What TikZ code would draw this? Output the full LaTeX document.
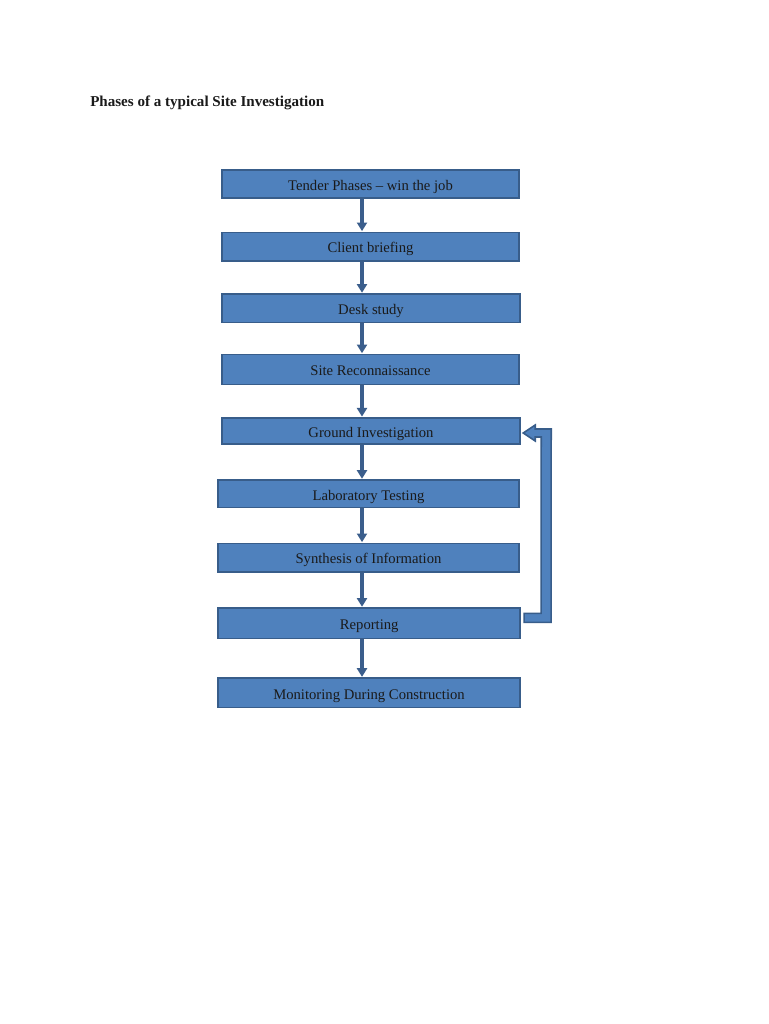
\documentclass[tikz,border=0pt]{standalone}
\usepackage{fontspec}
\setmainfont{Liberation Serif}
\usetikzlibrary{arrows.meta,calc}
\definecolor{boxfill}{HTML}{4F81BD}
\definecolor{boxline}{HTML}{385D8A}
\definecolor{arrowcol}{HTML}{3B5E8C}
\definecolor{txt}{HTML}{1A1A1A}
\tikzset{
  stepbox/.style={draw=boxline, fill=boxfill, line width=1.3pt, inner sep=0pt,
    text=txt, font=\fontsize{11}{13}\selectfont, align=center,
    text height=9.4pt, text depth=0pt},
  flowarrow/.style={draw=arrowcol, line width=3.2pt,
    -{Triangle[width=7.5pt,length=6.5pt]}, shorten >=0.3pt},
  feedback/.style={draw=boxline, fill=boxfill, line width=1.2pt, line join=miter}
}
\begin{document}
\begin{tikzpicture}[x=0.75pt,y=-0.75pt]
\useasboundingbox (0,0) rectangle (768,1024);
\fill[white] (0,0) rectangle (768,1024);

\node[anchor=base west, inner sep=0pt, text=txt, font=\fontsize{11.3}{13}\selectfont\bfseries] (title) at (90,107) {Phases of a typical Site Investigation};

\node[stepbox, minimum width=223pt, minimum height=21pt] (b1) at (370.5,184.2) {Tender Phases -- win the job};
\node[stepbox, minimum width=223pt, minimum height=21.4pt] (b2) at (370.5,246.7) {Client briefing};
\node[stepbox, minimum width=224pt, minimum height=21.4pt] (b3) at (371,308.3) {Desk study};
\node[stepbox, minimum width=223pt, minimum height=22.5pt] (b4) at (370.5,369.5) {Site Reconnaissance};
\node[stepbox, minimum width=224pt, minimum height=19.7pt] (b5) at (371,431) {Ground Investigation};
\node[stepbox, minimum width=226pt, minimum height=20.6pt] (b6) at (368.5,493.8) {Laboratory Testing};
\node[stepbox, minimum width=226pt, minimum height=21.4pt] (b7) at (368.5,557.7) {Synthesis of Information};
\node[stepbox, minimum width=226.5pt, minimum height=22.9pt] (b8) at (369.2,623.3) {Reporting};
\node[stepbox, minimum width=227pt, minimum height=22pt] (b9) at (369,692.8) {Monitoring During Construction};

\coordinate (ax) at (362,0);
\foreach \a/\b in {b1/b2,b2/b3,b3/b4,b4/b5,b5/b6,b6/b7,b7/b8,b8/b9}{
  \draw[flowarrow] (\a.south -| ax) -- (\b.north -| ax);
}

% feedback block arrow from Reporting back to Ground Investigation
\coordinate (fs) at (b8.east);
\coordinate (ft) at (b5.east);
\filldraw[feedback]
  ($(fs)+(3,-10)$) -- ($(fs)+(20,-10)$) -- ($(ft)+(20,6)$) -- ($(ft)+(14,6)$)
  -- ($(ft)+(14,10)$) -- ($(ft)+(2,2)$) -- ($(ft)+(14,-6)$) -- ($(ft)+(14,-2)$)
  -- ($(ft)+(30,-2)$) -- ($(fs)+(30,-1)$) -- ($(fs)+(3,-1)$) -- cycle;
\end{tikzpicture}
\end{document}
